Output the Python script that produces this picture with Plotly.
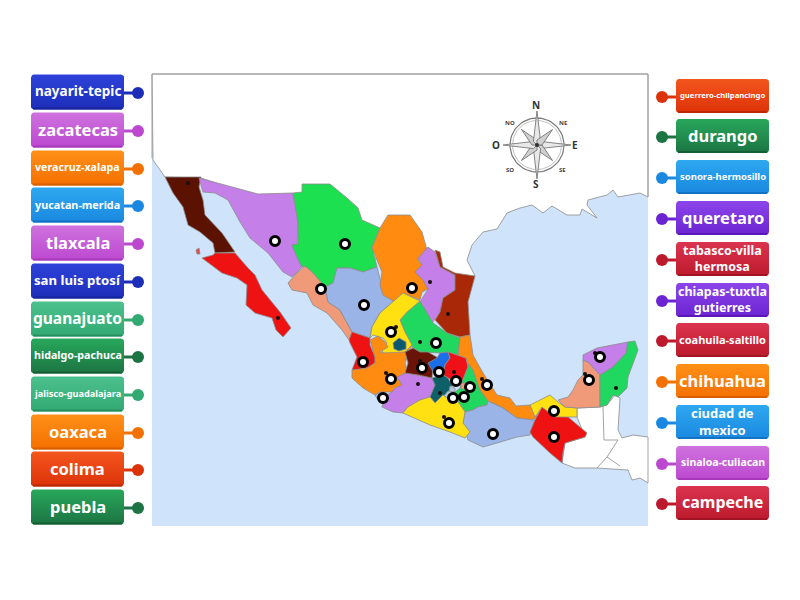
import math
import plotly.graph_objects as go

# labels
LEFT_LABELS = ["nayarit-tepic", "zacatecas", "veracruz-xalapa", "yucatan-merida", "tlaxcala",
               "san luis ptosí", "guanajuato", "hidalgo-pachuca", "jalisco-guadalajara",
               "oaxaca", "colima", "puebla"]
RIGHT_LABELS = ["guerrero-chilpancingo", "durango", "sonora-hermosillo", "queretaro",
                "tabasco-villa<br>hermosa", "chiapas-tuxtla<br>gutierres", "coahuila-saltillo",
                "chihuahua", "ciudad de<br>mexico", "sinaloa-culiacan", "campeche"]
COMPASS_LABELS = ["N", "S", "E", "O"]
COMPASS_MINOR = ["NO", "NE", "SO", "SE"]

# state outlines in picture pixels
BAJA_NORTE = [(165, 177), (201, 177), (199, 187), (203, 200), (205, 215), (222, 233), (235, 252), (215, 253), (213, 243), (200, 232), (188, 225), (183, 207), (173, 193)]
BAJA_SUR = [(215, 253), (235, 253), (248, 268), (255, 275), (262, 290), (270, 300), (280, 312), (291, 328), (283, 337), (276, 330), (272, 318), (255, 313), (246, 305), (247, 285), (237, 278), (222, 273), (202, 258), (213, 255)]
BAJA_ISLA = [(196, 250), (199, 248), (200, 254), (197, 254)]
SONORA = [(199, 178), (258, 194), (293, 193), (298, 222), (297, 245), (292, 245), (297, 257), (302, 267), (292, 277), (283, 272), (268, 253), (250, 238), (240, 222), (228, 200), (215, 193), (203, 192)]
CHIHUAHUA = [(293, 193), (302, 192), (302, 184), (330, 184), (347, 198), (358, 208), (362, 220), (380, 228), (372, 247), (377, 267), (363, 272), (350, 268), (337, 268), (333, 283), (325, 287), (313, 273), (305, 266), (302, 267), (297, 257), (292, 245), (298, 244), (298, 222)]
SINALOA = [(305, 266), (313, 273), (325, 287), (328, 302), (340, 310), (347, 323), (352, 332), (349, 340), (342, 330), (327, 313), (313, 305), (307, 293), (292, 290), (288, 283), (297, 273)]
DURANGO = [(337, 268), (350, 268), (363, 272), (377, 267), (382, 287), (390, 298), (395, 300), (380, 313), (372, 327), (370, 338), (352, 332), (347, 323), (340, 310), (328, 302), (325, 287), (333, 283)]
COAHUILA = [(388, 215), (410, 215), (422, 232), (425, 242), (427, 250), (418, 260), (422, 265), (415, 272), (423, 280), (428, 289), (422, 292), (420, 300), (403, 293), (395, 302), (383, 295), (380, 285), (382, 272), (372, 248), (380, 228)]
NUEVO_LEON = [(428, 247), (435, 252), (440, 267), (455, 275), (455, 290), (443, 298), (440, 312), (432, 323), (427, 312), (420, 302), (428, 289), (423, 280), (415, 272), (422, 265), (418, 258), (425, 250)]
TAMAULIPAS = [(435, 250), (440, 252), (443, 267), (455, 273), (475, 276), (468, 302), (470, 335), (460, 337), (447, 333), (435, 320), (440, 312), (443, 298), (455, 290), (455, 275), (440, 267)]
SAN_LUIS = [(420, 301), (433, 323), (447, 333), (460, 338), (458, 355), (448, 352), (440, 353), (428, 352), (420, 352), (413, 348), (405, 332), (400, 320), (407, 312)]
ZACATECAS = [(370, 338), (372, 327), (380, 313), (395, 300), (403, 293), (420, 301), (407, 312), (400, 320), (405, 332), (412, 345), (405, 352), (395, 355), (383, 353), (381, 348), (387, 343), (383, 338), (373, 335)]
AGUASCALIENTES = [(393, 343), (399, 338), (406, 342), (406, 349), (399, 351), (394, 349)]
NAYARIT = [(349, 340), (352, 332), (370, 338), (370, 345), (375, 357), (375, 363), (367, 368), (357, 370), (352, 370), (357, 357), (350, 343)]
JALISCO = [(370, 340), (378, 336), (385, 342), (388, 347), (380, 352), (383, 353), (405, 352), (412, 345), (405, 363), (408, 375), (397, 377), (402, 385), (395, 388), (392, 392), (380, 392), (375, 395), (363, 388), (352, 378), (352, 370), (367, 368), (375, 363), (375, 357)]
COLIMA = [(375, 395), (380, 392), (387, 395), (383, 403), (378, 400)]
MICHOACAN = [(397, 377), (405, 373), (418, 375), (432, 378), (435, 385), (430, 397), (420, 400), (408, 407), (403, 413), (393, 412), (382, 407), (383, 403), (387, 395), (392, 392), (395, 388), (402, 385)]
GUANAJUATO = [(413, 348), (420, 352), (428, 352), (440, 359), (433, 368), (432, 378), (418, 375), (405, 373), (408, 363), (405, 352)]
QUERETARO = [(440, 353), (448, 352), (450, 358), (445, 365), (443, 375), (435, 375), (428, 363), (437, 358)]
HIDALGO = [(448, 352), (458, 355), (466, 358), (468, 367), (462, 382), (455, 382), (448, 378), (443, 375), (445, 365), (450, 358)]
EDO_MEXICO = [(432, 378), (443, 375), (448, 378), (452, 385), (448, 397), (443, 395), (435, 403), (430, 397), (435, 385)]
PUEBLA = [(468, 363), (473, 370), (480, 390), (488, 400), (487, 405), (478, 407), (473, 410), (465, 412), (457, 400), (455, 392), (460, 388), (462, 382), (468, 367)]
CDMX = [(450, 386), (455, 388), (455, 392), (449, 392)]
MORELOS = [(448, 391), (455, 392), (457, 400), (453, 402), (443, 397)]
TLAXCALA = [(461, 383), (468, 383), (468, 389), (461, 389)]
VERACRUZ = [(460, 337), (470, 335), (473, 355), (483, 373), (497, 395), (510, 398), (516, 406), (530, 405), (537, 417), (532, 420), (517, 418), (503, 408), (488, 401), (480, 390), (473, 370), (468, 363), (466, 358), (458, 355)]
OAXACA = [(465, 412), (473, 410), (478, 407), (487, 405), (488, 401), (503, 408), (517, 418), (532, 420), (535, 420), (530, 435), (517, 437), (497, 443), (483, 447), (468, 440), (463, 423)]
GUERRERO = [(403, 413), (408, 407), (420, 400), (430, 397), (435, 403), (443, 395), (453, 402), (457, 400), (465, 412), (463, 423), (470, 432), (465, 438), (450, 432), (430, 425), (412, 417)]
CHIAPAS = [(535, 420), (542, 407), (555, 415), (568, 417), (587, 433), (585, 437), (565, 443), (563, 452), (562, 463), (550, 453), (533, 437), (530, 432)]
TABASCO = [(530, 405), (550, 395), (558, 402), (565, 407), (577, 408), (577, 417), (568, 417), (555, 417), (542, 407), (535, 417)]
CAMPECHE = [(583, 360), (588, 362), (600, 375), (600, 407), (578, 408), (565, 407), (558, 400), (568, 397), (573, 390), (578, 380), (583, 375)]
YUCATAN = [(583, 355), (597, 348), (628, 342), (626, 353), (613, 367), (600, 375), (588, 362), (583, 360)]
QUINTANA_ROO = [(628, 342), (635, 341), (638, 350), (628, 377), (627, 388), (618, 397), (613, 395), (607, 405), (600, 407), (600, 375), (613, 367), (626, 353)]

USA = [(152, 74), (648, 74), (648, 197), (640, 193), (618, 197), (613, 190), (607, 195), (588, 200), (587, 205), (597, 218), (582, 209), (580, 215), (567, 215), (552, 206), (543, 213), (532, 205), (520, 208), (507, 213), (497, 229), (483, 232), (472, 245), (467, 260), (475, 276), (470, 280), (440, 290), (380, 260), (300, 230), (235, 190), (201, 178), (165, 177), (153, 160)]
CENTRAL_AMERICA = [(577, 408), (600, 407), (607, 405), (615, 395), (620, 398), (618, 430), (622, 438), (633, 435), (648, 437), (648, 483), (640, 478), (632, 480), (628, 470), (597, 468), (575, 468), (562, 463), (565, 443), (585, 437), (577, 417)]
BORDER_BELIZE = [(603, 407), (604, 440), (618, 440)]
BORDER_HONDURAS = [(618, 440), (607, 457), (597, 468)]
BORDER_SALVADOR = [(607, 457), (620, 466)]

STATES = [
    (BAJA_NORTE, "#5c1200"), (BAJA_SUR, "#ee1212"), (BAJA_ISLA, "#e84848"), (SONORA, "#c47fe8"),
    (CHIHUAHUA, "#1de050"), (SINALOA, "#f09a7a"), (DURANGO, "#9ab4e8"), (COAHUILA, "#ff8c10"),
    (NUEVO_LEON, "#c47fe8"), (TAMAULIPAS, "#a82808"), (SAN_LUIS, "#20d860"), (ZACATECAS, "#ffe010"),
    (AGUASCALIENTES, "#0a5870"), (NAYARIT, "#ee1212"), (JALISCO, "#ff8c10"), (COLIMA, "#9ab4e8"),
    (MICHOACAN, "#c47fe8"), (GUANAJUATO, "#6a1408"), (QUERETARO, "#1a6ee8"), (HIDALGO, "#f01018"),
    (EDO_MEXICO, "#0e6068"), (PUEBLA, "#20d860"), (CDMX, "#b0c8e0"), (MORELOS, "#b0c8e0"), (TLAXCALA, "#f09a7a"),
    (VERACRUZ, "#ff8c10"), (OAXACA, "#9ab4e8"), (GUERRERO, "#ffe010"), (CHIAPAS, "#ee1212"),
    (TABASCO, "#ffe010"), (CAMPECHE, "#f09a7a"), (YUCATAN, "#c47fe8"), (QUINTANA_ROO, "#20d860"),
]

HOTSPOTS_X = [275, 345, 321, 364, 391, 412, 436, 363, 422, 439, 391, 383, 456, 470, 487, 453, 464, 449, 493, 554, 554, 589, 600]
HOTSPOTS_Y = [241, 244, 289, 305, 332, 288, 343, 362, 368, 372, 379, 398, 381, 387, 385, 398, 397, 423, 434, 411, 437, 380, 357]
CAPITALS_X = [188, 278, 430, 448, 420, 396, 420, 418, 440, 454, 386, 444, 482, 616, 585, 595]
CAPITALS_Y = [183, 318, 282, 314, 342, 327, 361, 384, 393, 372, 373, 417, 379, 388, 374, 353]

# button colours: top, bottom, edge
BLUE = ("#2e42da", "#1c2eb8", "#16249a")
PINK = ("#cf72de", "#bc48d0", "#a838bc")
ORANGE = ("#ff9018", "#f47000", "#d86000")
SKY = ("#2ea8f0", "#1a88e0", "#1272c4")
TEAL = ("#4cc08e", "#32aa72", "#269060")
GREEN = ("#28a85c", "#1c7442", "#145e34")
FLAME = ("#f4561e", "#dc3208", "#bc2804")
VIOLET = ("#8c44ea", "#6c24d2", "#5a18b8")
RED = ("#dc3450", "#bc1a2c", "#a01424")

LEFT_COLORS = [BLUE, PINK, ORANGE, SKY, PINK, BLUE, TEAL, GREEN, TEAL, ORANGE, FLAME, GREEN]
RIGHT_COLORS = [FLAME, GREEN, SKY, VIOLET, RED, VIOLET, RED, ORANGE, SKY, PINK, RED]
LEFT_SIZES = [13.5, 16.5, 10.7, 10.8, 16.5, 13.2, 15.5, 10.7, 9.2, 16.5, 16.5, 16.5]
RIGHT_SIZES = [7.7, 16.5, 9.5, 16.5, 12.5, 12.5, 11, 16.5, 13, 10.5, 16]
LEFT_Y = [92, 130, 168, 205, 243, 281, 319, 356, 394, 432, 469, 507]
RIGHT_Y = [96, 136, 177, 218, 259, 300, 340, 381, 422, 463, 503]

SEA = "#cfe3fb"
COAST = "#8c8c8c"
FONT = "Noto Sans"

fig = go.Figure()


def add_poly(points, fill, line=COAST, width=0.8):
    xs = [p[0] for p in points] + [points[0][0]]
    ys = [p[1] for p in points] + [points[0][1]]
    fig.add_trace(go.Scatter(x=xs, y=ys, mode="lines", fill="toself", fillcolor=fill,
                             line=dict(color=line, width=width), hoverinfo="skip"))


def add_line(points, color=COAST, width=0.8):
    fig.add_trace(go.Scatter(x=[p[0] for p in points], y=[p[1] for p in points], mode="lines",
                             line=dict(color=color, width=width), hoverinfo="skip"))


def rounded(x0, y0, x1, y1, r=3):
    pts = []
    for cx, cy, start in [(x1 - r, y0 + r, -90), (x1 - r, y1 - r, 0), (x0 + r, y1 - r, 90), (x0 + r, y0 + r, 180)]:
        for k in range(5):
            a = math.radians(start + k * 22.5)
            pts.append((cx + r * math.cos(a), cy + r * math.sin(a)))
    pts.append(pts[0])
    return pts


def add_button(label, colors, size, y_mid, x0, x1, dot_x, h=35):
    top, bottom, edge = colors
    y0, y1 = y_mid - h / 2, y_mid + h / 2
    # connector first so the button covers its end
    near = x1 if dot_x > x1 else x0
    add_line([(near, y_mid + 1), (dot_x, y_mid + 1)], bottom, 3)
    fig.add_trace(go.Scatter(x=[dot_x], y=[y_mid + 1], mode="markers", hoverinfo="skip",
                             marker=dict(size=12, color=bottom)))
    pts = rounded(x0, y0, x1, y1)
    fig.add_trace(go.Scatter(x=[p[0] for p in pts], y=[p[1] for p in pts], mode="lines",
                             line=dict(width=0), fill="toself", hoverinfo="skip",
                             fillgradient=dict(type="vertical", start=y0, stop=y1,
                                               colorscale=[[0, top], [1, bottom]])))
    add_line([(x0 + 2, y1 - 1), (x1 - 2, y1 - 1)], edge, 2)
    fig.add_annotation(x=(x0 + x1) / 2, y=y_mid - 1, text=label, showarrow=False,
                       font=dict(family=FONT, size=size, color="white", weight=700),
                       align="center")


# sea and land behind the states
add_poly([(152, 74), (648, 74), (648, 526), (152, 526)], SEA, line=SEA, width=0)
add_poly(USA, "white")
add_poly(CENTRAL_AMERICA, "white")
add_line(BORDER_BELIZE)
add_line(BORDER_HONDURAS)
add_line(BORDER_SALVADOR)
add_line([(152, 158), (152, 74), (648, 74), (648, 197)], "#a0a0a0", 1)

for outline, colour in STATES:
    add_poly(outline, colour)

fig.add_trace(go.Scatter(x=CAPITALS_X, y=CAPITALS_Y, mode="markers", hoverinfo="skip",
                         marker=dict(size=4, color="#1a1010")))
fig.add_trace(go.Scatter(x=HOTSPOTS_X, y=HOTSPOTS_Y, mode="markers", hoverinfo="skip",
                         marker=dict(size=9, color="white", line=dict(color="black", width=3))))

# compass rose
cx, cy = 537, 145
ring = [(cx + 27 * math.cos(math.radians(a)), cy + 27 * math.sin(math.radians(a))) for a in range(0, 365, 5)]
add_line(ring, "#7a7a7a", 1.2)
ring = [(cx + 24.5 * math.cos(math.radians(a)), cy + 24.5 * math.sin(math.radians(a))) for a in range(0, 365, 5)]
add_line(ring, "#b0b0b0", 0.8)
for k in range(8):
    a = math.radians(k * 45)
    r = 34 if k % 2 == 0 else 22
    tip = (cx + r * math.cos(a), cy + r * math.sin(a))
    s1 = (cx + 5 * math.cos(a + 0.8), cy + 5 * math.sin(a + 0.8))
    s2 = (cx + 5 * math.cos(a - 0.8), cy + 5 * math.sin(a - 0.8))
    add_poly([s1, tip, s2, (cx, cy)], "#e8e8e8" if k % 2 == 0 else "#cfcfcf", line="#6a6a6a", width=0.8)
fig.add_trace(go.Scatter(x=[cx], y=[cy], mode="markers", hoverinfo="skip",
                         marker=dict(size=4, color="#303030")))
for label, lx, ly in zip(COMPASS_LABELS, [536, 536, 575, 496], [105, 184, 145, 145]):
    fig.add_annotation(x=lx, y=ly, text=label, showarrow=False,
                       font=dict(family=FONT, size=10, color="#333333", weight=700))
for label, lx, ly in zip(COMPASS_MINOR, [510, 563, 510, 562], [123, 123, 170, 170]):
    fig.add_annotation(x=lx, y=ly, text=label, showarrow=False,
                       font=dict(family=FONT, size=6, color="#444444", weight=700))

for label, colors, size, y in zip(LEFT_LABELS, LEFT_COLORS, LEFT_SIZES, LEFT_Y):
    add_button(label, colors, size, y, 31, 124, 138)
for label, colors, size, y in zip(RIGHT_LABELS, RIGHT_COLORS, RIGHT_SIZES, RIGHT_Y):
    add_button(label, colors, size, y, 676, 769, 662, h=34)

fig.update_layout(width=800, height=600, margin=dict(l=0, r=0, t=0, b=0), showlegend=False,
                  plot_bgcolor="white", paper_bgcolor="white",
                  xaxis=dict(range=[0, 800], visible=False, fixedrange=True),
                  yaxis=dict(range=[600, 0], visible=False, fixedrange=True))

fig.write_html("out.html", post_script="document.body.style.margin = '0';",
               config=dict(displayModeBar=False))
